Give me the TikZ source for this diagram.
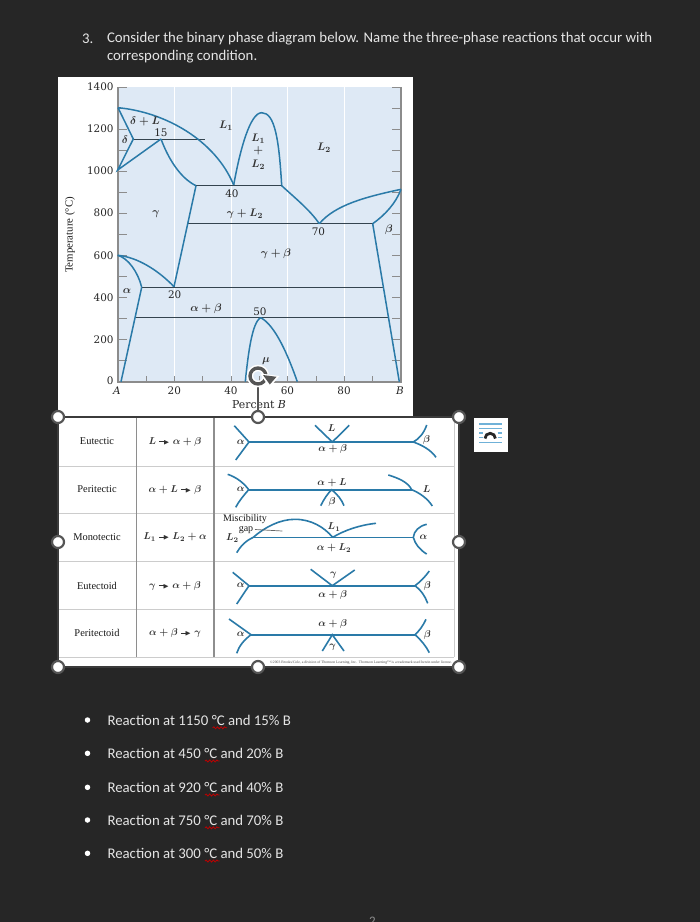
\documentclass[tikz,border=0pt]{standalone}
\usepackage{amssymb}
\usepackage{fontspec}
\setmainfont{Carlito}
\newfontfamily\figfont{Liberation Serif}
\newfontfamily\axfont{DejaVu Serif}
\usetikzlibrary{decorations.pathmorphing}
\definecolor{pagebg}{HTML}{262626}
\definecolor{plotbg}{HTML}{DEE9F5}
\definecolor{curve}{HTML}{2A7AA8}
\definecolor{tie}{HTML}{34444F}
\definecolor{tickc}{HTML}{8C8C8C}
\definecolor{rowc}{HTML}{CCCCCC}
\definecolor{colc}{HTML}{8E8E8E}
\definecolor{selc}{HTML}{555555}
\definecolor{iconblue}{HTML}{6FB1D8}
\newcommand{\reactarrow}{\mathrel{\rule[0.24em]{0.55em}{0.5pt}\kern-1.5pt{\scriptstyle\blacktriangleright}}}
\tikzset{
  x=1pt,y=-1pt,
  every node/.style={inner sep=0pt,outer sep=0pt},
  curveline/.style={draw=curve,line width=1.5pt},
  tieline/.style={draw=tie,line width=1.1pt},
  schem/.style={draw=curve,line width=1.6pt},
  tickline/.style={draw=tickc,line width=0.9pt},
  docbig/.style={text=white!90!black,font=\fontsize{14.8}{18}\selectfont,anchor=west},
  axlabel/.style={font=\axfont\fontsize{10.4}{12}\selectfont,text=black!85},
  maths/.style={font=\figfont\fontsize{11}{13}\selectfont\boldmath,text=black!80},
  cellname/.style={font=\figfont\fontsize{10.4}{12}\selectfont,text=black!90},
  cellmath/.style={font=\figfont\fontsize{10}{12}\selectfont\boldmath,text=black!80},
  cellword/.style={font=\figfont\fontsize{10}{12}\selectfont,text=black!90},
  handle/.style={circle,draw=selc,fill=white,line width=2.2pt,minimum size=12pt},
  bulletdot/.style={circle,fill=white,minimum size=5.5pt},
  squiggle/.style={draw=red!75!black,line width=0.8pt,decorate,decoration={snake,amplitude=1pt,segment length=3.6pt}},
}
\begin{document}
\begin{tikzpicture}
\useasboundingbox (0,0) rectangle (700,922);
\clip (0,0) rectangle (700,922);
\fill[pagebg] (0,0) rectangle (700,922);

% question
\node[docbig] (qnum) at (82,38.7) {3.};
\node[docbig] (qa) at (107,38.7) {Consider the binary phase diagram below. Name the three-phase reactions that occur with};
\node[docbig] (qb) at (107,57) {corresponding condition.};

% figure panel
\fill[white] (58,77) rectangle (413,417);
\fill[plotbg] (118,87) rectangle (401,382);
\foreach \gx in {174.6,231.2,287.8,344.4} \draw[white,line width=0.9pt] (\gx,87) -- (\gx,382);
% axes and ticks
\draw[tickline,line width=1.2pt] (118,87) -- (118,382) -- (401,382) -- (401,87);
\foreach \i in {0,...,14} {
  \pgfmathsetmacro{\ty}{87+\i*21.07}
  \draw[tickline] (118,\ty) -- (127,\ty);
  \draw[tickline] (401,\ty) -- (392,\ty);
}
\foreach \i in {1,...,9} {
  \pgfmathsetmacro{\tx}{118+\i*28.3}
  \draw[tickline] (\tx,382) -- (\tx,376);
}

% tie lines
\draw[tieline] (133.3,139.4) -- (205,139.4);
\draw[tieline] (196,185.7) -- (281.7,185.7);
\draw[tieline] (188,223.7) -- (372.7,223.7);
\draw[tieline] (141.7,287.3) -- (383.3,287.3);
\draw[tieline] (136.3,317.7) -- (388.3,317.7);
% phase boundaries
\draw[curveline] (118,107.7) .. controls (165,112) and (215,140) .. (233.7,185);
\draw[curveline] (118,107.7) -- (133.3,139) -- (117.7,170) -- (161,139);
\draw[curveline] (161,139) .. controls (168,158) and (180,178) .. (196,185.7);
\draw[curveline] (233.7,185) .. controls (240,150) and (250,112.7) .. (261.7,112.7) .. controls (275,112.7) and (279,140) .. (281.7,185.7);
\draw[curveline] (196,185.7) -- (174,286.7);
\draw[curveline] (281.7,185.7) .. controls (295,198) and (310,210) .. (319.3,223.7);
\draw[curveline] (319.3,223.7) .. controls (335,205) and (365,197) .. (401,189.3);
\draw[curveline] (372.7,223.7) .. controls (385,215) and (396,203) .. (401,189.3);
\draw[curveline] (372.7,223.7) -- (399.3,381.7);
\draw[curveline] (117.7,255.3) .. controls (128,258) and (138,272) .. (141.7,287.3);
\draw[curveline] (117.7,255.3) .. controls (137,257) and (158,270) .. (174,286.7);
\draw[curveline] (141.7,287.3) -- (121,381.7);
\draw[curveline] (260.7,317.7) .. controls (252,322) and (248,355) .. (245.3,381.7);
\draw[curveline] (260.7,317.7) .. controls (275,325) and (288,355) .. (297.3,381.7);

% axis labels
\node[axlabel,anchor=east] (y1400) at (113.5,87) {1400};
\node[axlabel,anchor=east] (y1200) at (113.5,129) {1200};
\node[axlabel,anchor=east] (y1000) at (113.5,171) {1000};
\node[axlabel,anchor=east] (y800) at (113.5,213) {800};
\node[axlabel,anchor=east] (y600) at (113.5,255.5) {600};
\node[axlabel,anchor=east] (y400) at (113.5,297.5) {400};
\node[axlabel,anchor=east] (y200) at (113.5,340) {200};
\node[axlabel,anchor=east] (y0) at (113.5,381) {0};
\node[axlabel] (xa) at (117,390.5) {\textit{A}};
\node[axlabel] (x20) at (174.3,390.5) {20};
\node[axlabel] (x40) at (231,390.5) {40};
\node[axlabel] (x60) at (287.5,390.5) {60};
\node[axlabel] (x80) at (344,390.5) {80};
\node[axlabel] (xb) at (400,390.5) {\textit{B}};
\node[axlabel,font=\axfont\fontsize{10.9}{12}\selectfont] (xtitle) at (259,405) {Percent \textit{B}};
\node[font=\figfont\fontsize{10.8}{13}\selectfont,text=black!90,rotate=90] (ytitle) at (70,235) {Temperature (\char"00B0 C)};

% region labels
\node[maths] (r1) at (145,121) {$\delta+L$};
\node[axlabel] (r2) at (161,132.5) {15};
\node[maths] (r3) at (125,139.5) {$\delta$};
\node[maths] (r4) at (226,126) {$L_1$};
\node[maths] (r5) at (258.3,138.5) {$L_1$};
\node[maths] (r6) at (258.3,151) {$+$};
\node[maths] (r7) at (258.3,165) {$L_2$};
\node[maths] (r8) at (324,148) {$L_2$};
\node[axlabel] (r9) at (232,194) {40};
\node[maths] (r10) at (245,214) {$\gamma+L_2$};
\node[maths] (r11) at (156,214) {$\gamma$};
\node[axlabel] (r12) at (318.5,232) {70};
\node[maths] (r13) at (389,230) {$\beta$};
\node[maths] (r14) at (276,254) {$\gamma+\beta$};
\node[maths] (r15) at (127,291.5) {$\alpha$};
\node[axlabel] (r16) at (174.7,295) {20};
\node[maths] (r17) at (206,309) {$\alpha+\beta$};
\node[axlabel] (r18) at (260,312) {50};
\node[maths] (r19) at (266,361) {$\mu$};

% table panel
\fill[white] (58,417) rectangle (458,667);
\foreach \ry in {466,513.7,561.7,609.3,657.3} \draw[rowc,line width=1pt] (58,\ry) -- (454,\ry);
\draw[rowc,line width=1pt] (454,417) -- (454,657.3);
\draw[colc,line width=1.1pt] (136.3,417) -- (136.3,657.3);
\draw[colc,line width=1.1pt] (214,417) -- (214,657.3);

\node[cellname] (n1) at (97,441.5) {Eutectic};
\node[cellname] (n2) at (97,489.5) {Peritectic};
\node[cellname] (n3) at (97,537) {Monotectic};
\node[cellname] (n4) at (97,585.5) {Eutectoid};
\node[cellname] (n5) at (97,633) {Peritectoid};
\node[cellmath] (m1) at (175,441.5) {$L\reactarrow\alpha+\beta$};
\node[cellmath] (m2) at (175,489.5) {$\alpha+L\reactarrow\beta$};
\node[cellmath] (m3) at (175,537) {$L_1\reactarrow L_2+\alpha$};
\node[cellmath] (m4) at (175,585.5) {$\gamma\reactarrow\alpha+\beta$};
\node[cellmath] (m5) at (175,633) {$\alpha+\beta\reactarrow\gamma$};

% row 1: eutectic
\draw[schem] (234.3,425.7) -- (249,442) -- (235.7,460);
\draw[schem] (249,442) -- (413.3,442);
\draw[schem] (315,425.3) -- (332.3,442) -- (349.3,425.3);
\draw[schem] (426.7,425) .. controls (424,433) and (419,439) .. (413.3,442) .. controls (422,445) and (431,450) .. (436,457.3);
\node[cellmath] (s1a) at (240.7,442) {$\alpha$};
\node[cellmath] (s1b) at (331.7,428) {$L$};
\node[cellmath] (s1c) at (332.7,449) {$\alpha+\beta$};
\node[cellmath] (s1d) at (426.7,439.5) {$\beta$};
% row 2: peritectic
\draw[schem] (227.7,474.3) .. controls (236,477) and (244,483) .. (248.7,489.7) .. controls (244,495) and (239,501) .. (235.7,507.3);
\draw[schem] (248.7,489.7) -- (411.7,489.7);
\draw[schem] (320.7,505.7) .. controls (324,499) and (328,493) .. (331.7,489.7) .. controls (337,494) and (342,500) .. (344,505.7);
\draw[schem] (388.3,475) .. controls (398,478) and (408,482) .. (411.7,489.7) .. controls (420,493) and (428,499) .. (432.3,506);
\node[cellmath] (s2a) at (240.7,489.7) {$\alpha$};
\node[cellmath] (s2b) at (332,483) {$\alpha+L$};
\node[cellmath] (s2c) at (332,502) {$\beta$};
\node[cellmath] (s2d) at (426.7,489.3) {$L$};
% row 3: monotectic
\draw[schem] (253.3,537.3) -- (413.3,537.3);
\draw[schem] (236.7,552.7) .. controls (243,542) and (250,539) .. (253.3,537.3) .. controls (265,527) and (280,519.3) .. (295,519.3) .. controls (311,519.3) and (324,527) .. (332.7,537.3);
\draw[schem] (332.7,537.3) .. controls (345,530) and (360,525) .. (376,523.3);
\draw[schem] (426.7,524.3) .. controls (419,526) and (414,531) .. (413.3,537.3) .. controls (415,544) and (420,550) .. (426.7,554);
\draw[draw=black!60,line width=0.7pt] (255,529.5) -- (282.3,531);
\node[cellword] (s3a) at (245,519.3) {Miscibility};
\node[cellword] (s3b) at (246,530) {gap};
\node[cellmath] (s3c) at (232.3,538.3) {$L_2$};
\node[cellmath] (s3d) at (334,527.3) {$L_1$};
\node[cellmath] (s3e) at (334,548.3) {$\alpha+L_2$};
\node[cellmath] (s3f) at (423.3,537.3) {$\alpha$};
% row 4: eutectoid
\draw[schem] (232.7,572.3) -- (249,585.7) -- (236.7,604);
\draw[schem] (249,585.7) -- (415,585.7);
\draw[schem] (310.7,569.3) -- (332.3,585.7) -- (354.7,570);
\draw[schem] (429.3,571) .. controls (425,577) and (420,582) .. (415,585.7) .. controls (421,590) and (425,596) .. (427.7,603.3);
\node[cellmath] (s4a) at (240.7,585.7) {$\alpha$};
\node[cellmath] (s4b) at (333.3,575) {$\gamma$};
\node[cellmath] (s4c) at (332.7,594.5) {$\alpha+\beta$};
\node[cellmath] (s4d) at (427.3,585.5) {$\beta$};
% row 5: peritectoid
\draw[schem] (229,619) -- (251,634.7);
\draw[schem] (251,634.7) .. controls (244,640) and (239,646) .. (236.7,653.3);
\draw[schem] (251,634.7) -- (415,634.7);
\draw[schem] (322.3,651) -- (332.3,634.7) -- (344,651);
\draw[schem] (426,619.3) .. controls (423,626) and (419,631) .. (415,634.7) .. controls (421,640) and (426,646) .. (429.3,652.7);
\node[cellmath] (s5a) at (240.7,634.7) {$\alpha$};
\node[cellmath] (s5b) at (332.7,624.3) {$\alpha+\beta$};
\node[cellmath] (s5c) at (332.7,647.3) {$\gamma$};
\node[cellmath] (s5d) at (427.3,634.7) {$\beta$};
\node[font=\figfont\fontsize{3.7}{4}\selectfont,text=black!70,anchor=east] (copy) at (452,662.3) {\char"00A9 2003 Brooks/Cole, a division of Thomson Learning, Inc.\ \ Thomson Learning\char"2122\ is a trademark used herein under license.};

% selection frame
\draw[selc!70!black,line width=2pt] (58,417) rectangle (459,667);
\draw[selc,line width=1.1pt] (258,384) -- (258,417);
\foreach \hx/\hy/\hn in {58/417/ha,258/417/hb,459/417/hc,58/542/hd,459/542/he,58/667/hf,258/667/hg,459/667/hh}
  \node[handle] (\hn) at (\hx,\hy) {};
% rotation handle
\draw[white,line width=6.5pt] (266,376) arc[start angle=0,end angle=350,radius=8];
\draw[selc,line width=3.4pt] (266,376) arc[start angle=0,end angle=350,radius=8];
\fill[white] (260,373.5) -- (279.5,376) -- (269.5,387.5) -- cycle;
\fill[selc] (263,375) -- (276.5,376.8) -- (269.8,384.5) -- cycle;

% layout-options icon
\fill[white] (473.5,417.7) rectangle (507.7,451.7);
\foreach \ly in {424,428.5,442.7} \draw[iconblue,line width=1.2pt] (479,\ly) -- (501.5,\ly);
\foreach \ly in {433,437.8} {
  \draw[iconblue,line width=1.2pt] (479,\ly) -- (483,\ly);
  \draw[iconblue,line width=1.2pt] (497.5,\ly) -- (501.5,\ly);
}
\draw[black!85,line width=2.8pt] (485,438.5) arc[start angle=180,end angle=360,radius=5.2];

% bullets
\foreach \by/\bn in {720/ba,753.3/bb,787.3/bc,820/bd,853.3/be} \node[bulletdot] (\bn) at (87.5,\by) {};
\node[docbig] (t1) at (107.5,720.3) {Reaction at 1150 \char"00B0 C and 15\% B};
\node[docbig] (t2) at (107.5,753.6) {Reaction at 450 \char"00B0 C and 20\% B};
\node[docbig] (t3) at (107.5,787.6) {Reaction at 920 \char"00B0 C and 40\% B};
\node[docbig] (t4) at (107.5,820.3) {Reaction at 750 \char"00B0 C and 70\% B};
\node[docbig] (t5) at (107.5,853.6) {Reaction at 300 \char"00B0 C and 50\% B};
\draw[squiggle] (212.7,727.8) -- (227,727.8);
\foreach \sy in {761,795,827.8,861} \draw[squiggle] (205,\sy) -- (219.5,\sy);

% page number cut off by the lower edge, as in the reference
\node[font=\fontsize{13}{15}\selectfont,text=black!45] (pg) at (372.5,921) {2};
\end{tikzpicture}
\end{document}
